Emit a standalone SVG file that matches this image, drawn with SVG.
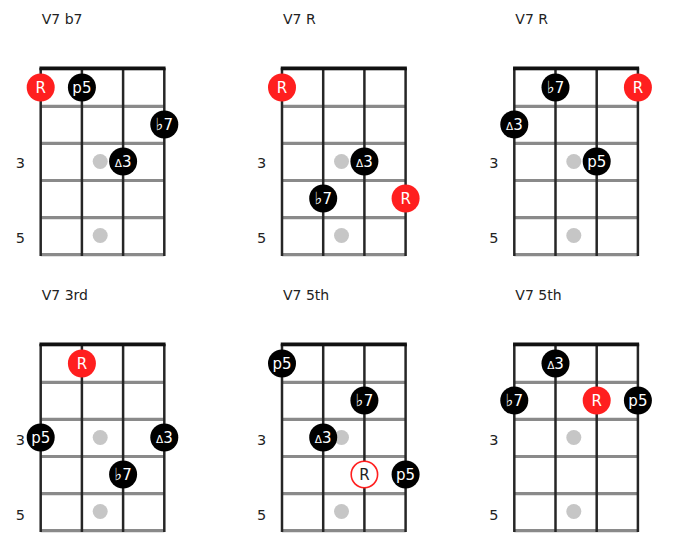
<svg xmlns="http://www.w3.org/2000/svg" xmlns:xlink="http://www.w3.org/1999/xlink" width="686" height="552" viewBox="0 0 686 552">
<style>
  .title{font-family:"DejaVu Sans",sans-serif;font-size:14px;fill:#222}
  .fnum{font-family:"DejaVu Sans",sans-serif;font-size:14.5px;fill:#222}
  .fret{stroke:#8a8a8a;stroke-width:3.2}
  .str{stroke:#262626;stroke-width:2.5}
  .gray{fill:#c6c6c6}
  .blk{fill:#000}
  .red{fill:#ff1f1f}
  .hollow{fill:#fff;stroke:#ff1f1f;stroke-width:1.6}
  .lbl{font-family:"DejaVu Sans",sans-serif;font-size:15px;fill:#fff;text-anchor:middle}
  .lbld{font-family:"DejaVu Sans",sans-serif;font-size:15px;fill:#222;text-anchor:middle}
  .tri{font-size:10.5px}
  .flat{font-size:17px}
</style>
<defs>
  <g id="grid">
    <line class="fret" x1="0" y1="38.3" x2="123.6" y2="38.3"/>
    <line class="fret" x1="0" y1="75.4" x2="123.6" y2="75.4"/>
    <line class="fret" x1="0" y1="112.5" x2="123.6" y2="112.5"/>
    <line class="fret" x1="0" y1="149.6" x2="123.6" y2="149.6"/>
    <line class="fret" x1="0" y1="186.7" x2="123.6" y2="186.7"/>
    <line class="str" x1="0" y1="0" x2="0" y2="188"/>
    <line class="str" x1="41.2" y1="0" x2="41.2" y2="188"/>
    <line class="str" x1="82.4" y1="0" x2="82.4" y2="188"/>
    <line class="str" x1="123.6" y1="0" x2="123.6" y2="188"/>
    <rect x="-1.25" y="-1.5" width="126.1" height="3.8" fill="#111"/>
  </g>
  <g id="inlays">
    <circle class="gray" cx="59.5" cy="93.5" r="7.5"/>
    <circle class="gray" cx="59.5" cy="167.5" r="7.5"/>
  </g>
</defs>

<g id="diagram1" transform="translate(40.7,68)">
  <text class="title" x="1" y="-44">V7 b7</text>
  <text class="fnum" x="-25" y="100">3</text>
  <text class="fnum" x="-25" y="175">5</text>
  <use xlink:href="#grid"/>
  <use xlink:href="#inlays"/>
  <g id="d1-R" transform="translate(0,19.5)"><circle class="red" r="14"/><text class="lbl" y="5.3">R</text></g>
  <g id="d1-p5" transform="translate(41.2,19.5)"><circle class="blk" r="14"/><text class="lbl" y="5.3">p5</text></g>
  <g id="d1-b7" transform="translate(123.6,56.5)"><circle class="blk" r="14"/><text class="lbl" y="5.3"><tspan class="flat">♭</tspan>7</text></g>
  <g id="d1-M3" transform="translate(82.4,93.5)"><circle class="blk" r="14"/><text class="lbl" y="5.3"><tspan class="tri">Δ</tspan>3</text></g>
</g>

<g id="diagram2" transform="translate(282,68)">
  <text class="title" x="1" y="-44">V7 R</text>
  <text class="fnum" x="-25" y="100">3</text>
  <text class="fnum" x="-25" y="175">5</text>
  <use xlink:href="#grid"/>
  <use xlink:href="#inlays"/>
  <g id="d2-R1" transform="translate(0,19.5)"><circle class="red" r="14"/><text class="lbl" y="5.3">R</text></g>
  <g id="d2-M3" transform="translate(82.4,93.5)"><circle class="blk" r="14"/><text class="lbl" y="5.3"><tspan class="tri">Δ</tspan>3</text></g>
  <g id="d2-b7" transform="translate(41.2,130.5)"><circle class="blk" r="14"/><text class="lbl" y="5.3"><tspan class="flat">♭</tspan>7</text></g>
  <g id="d2-R2" transform="translate(123.6,130.5)"><circle class="red" r="14"/><text class="lbl" y="5.3">R</text></g>
</g>

<g id="diagram3" transform="translate(514.3,68)">
  <text class="title" x="1" y="-44">V7 R</text>
  <text class="fnum" x="-25" y="100">3</text>
  <text class="fnum" x="-25" y="175">5</text>
  <use xlink:href="#grid"/>
  <use xlink:href="#inlays"/>
  <g id="d3-b7" transform="translate(41.2,19.5)"><circle class="blk" r="14"/><text class="lbl" y="5.3"><tspan class="flat">♭</tspan>7</text></g>
  <g id="d3-R" transform="translate(123.6,19.5)"><circle class="red" r="14"/><text class="lbl" y="5.3">R</text></g>
  <g id="d3-M3" transform="translate(0,56.5)"><circle class="blk" r="14"/><text class="lbl" y="5.3"><tspan class="tri">Δ</tspan>3</text></g>
  <g id="d3-p5" transform="translate(82.4,93.5)"><circle class="blk" r="14"/><text class="lbl" y="5.3">p5</text></g>
</g>

<g id="diagram4" transform="translate(40.7,344)">
  <text class="title" x="1" y="-44">V7 3rd</text>
  <text class="fnum" x="-25" y="101">3</text>
  <text class="fnum" x="-25" y="176">5</text>
  <use xlink:href="#grid"/>
  <use xlink:href="#inlays"/>
  <g id="d4-R" transform="translate(41.2,19.5)"><circle class="red" r="14"/><text class="lbl" y="5.3">R</text></g>
  <g id="d4-p5" transform="translate(0,93.5)"><circle class="blk" r="14"/><text class="lbl" y="5.3">p5</text></g>
  <g id="d4-M3" transform="translate(123.6,93.5)"><circle class="blk" r="14"/><text class="lbl" y="5.3"><tspan class="tri">Δ</tspan>3</text></g>
  <g id="d4-b7" transform="translate(82.4,130.5)"><circle class="blk" r="14"/><text class="lbl" y="5.3"><tspan class="flat">♭</tspan>7</text></g>
</g>

<g id="diagram5" transform="translate(282,344)">
  <text class="title" x="1" y="-44">V7 5th</text>
  <text class="fnum" x="-25" y="101">3</text>
  <text class="fnum" x="-25" y="176">5</text>
  <use xlink:href="#grid"/>
  <use xlink:href="#inlays"/>
  <g id="d5-p5a" transform="translate(0,19.5)"><circle class="blk" r="14"/><text class="lbl" y="5.3">p5</text></g>
  <g id="d5-b7" transform="translate(82.4,56.5)"><circle class="blk" r="14"/><text class="lbl" y="5.3"><tspan class="flat">♭</tspan>7</text></g>
  <g id="d5-M3" transform="translate(41.2,93.5)"><circle class="blk" r="14"/><text class="lbl" y="5.3"><tspan class="tri">Δ</tspan>3</text></g>
  <g id="d5-R" transform="translate(82.4,130.5)"><circle class="hollow" r="13.2"/><text class="lbld" y="5.3">R</text></g>
  <g id="d5-p5b" transform="translate(123.6,130.5)"><circle class="blk" r="14"/><text class="lbl" y="5.3">p5</text></g>
</g>

<g id="diagram6" transform="translate(514.3,344)">
  <text class="title" x="1" y="-44">V7 5th</text>
  <text class="fnum" x="-25" y="101">3</text>
  <text class="fnum" x="-25" y="176">5</text>
  <use xlink:href="#grid"/>
  <use xlink:href="#inlays"/>
  <g id="d6-M3" transform="translate(41.2,19.5)"><circle class="blk" r="14"/><text class="lbl" y="5.3"><tspan class="tri">Δ</tspan>3</text></g>
  <g id="d6-b7" transform="translate(0,56.5)"><circle class="blk" r="14"/><text class="lbl" y="5.3"><tspan class="flat">♭</tspan>7</text></g>
  <g id="d6-R" transform="translate(82.4,56.5)"><circle class="red" r="14"/><text class="lbl" y="5.3">R</text></g>
  <g id="d6-p5" transform="translate(123.6,56.5)"><circle class="blk" r="14"/><text class="lbl" y="5.3">p5</text></g>
</g>
</svg>
